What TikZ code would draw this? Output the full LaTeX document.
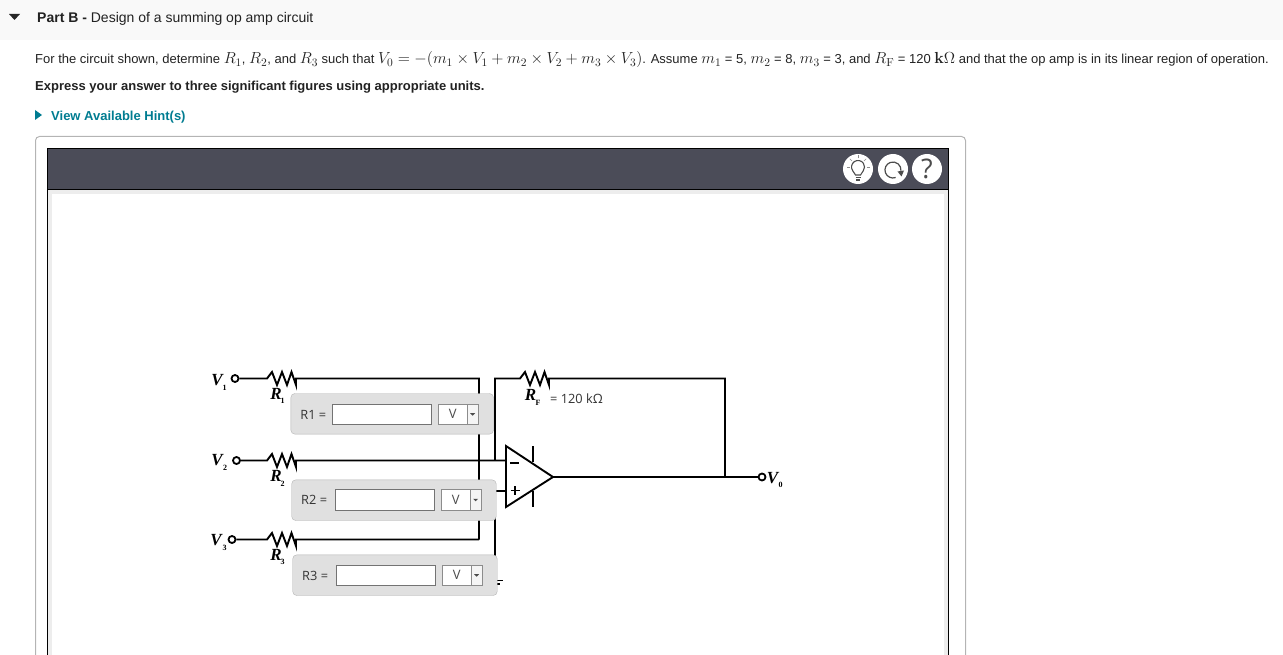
\RequirePackage{fix-cm}
\documentclass[tikz,border=0pt]{standalone}
\usepackage[no-math]{fontspec}
\usepackage{amsmath}
\setmainfont{Liberation Sans}
\newfontfamily\formfont{Open Sans}
\newfontfamily\labelfont{Liberation Serif}
\usetikzlibrary{positioning,calc}
\DeclareMathSizes{16}{16}{11.5}{8.5}
\definecolor{bandgray}{HTML}{F9F9F9}
\definecolor{panelgray}{HTML}{4B4C58}
\definecolor{hintteal}{HTML}{007C91}
\definecolor{textgray}{HTML}{222222}
\definecolor{boxgray}{HTML}{E0E0E0}
\definecolor{edgegray}{HTML}{B4B4B4}
\tikzset{
  wire/.style={line width=1.9pt, line join=miter},
  terminal/.style={circle, draw, line width=1.8pt, fill=white, inner sep=0pt, minimum size=7pt},
  para/.style={anchor=base west, inner sep=0pt, text=textgray, font=\fontsize{13}{16}\selectfont},
  symb/.style={inner sep=0pt, font=\fontsize{17}{18}\selectfont\labelfont\bfseries\itshape},
  subsymb/.style={inner sep=0pt, font=\fontsize{8}{8}\selectfont\labelfont\bfseries},
  anskbox/.style={draw=edgegray, fill=boxgray, rounded corners=4pt, anchor=north west, inner sep=0pt, minimum height=40.6pt},
  anslabel/.style={anchor=west, inner sep=0pt, text=black!80, font=\fontsize{12.8}{14}\selectfont\formfont},
  field/.style={draw=black!55, fill=white, anchor=north west, inner sep=0pt, minimum width=99pt, minimum height=20.6pt},
  unitbox/.style={draw=black!45, fill=white, anchor=north west, inner sep=0pt, minimum width=28.4pt, minimum height=20.6pt, text=black!70, font=\fontsize{13}{14}\selectfont\formfont},
  caretbox/.style={draw=black!45, fill=black!4, inner sep=0pt, minimum width=10.6pt, minimum height=20.6pt},
  iconbg/.style={circle, fill=white, inner sep=0pt, minimum size=30pt}
}
\newcommand{\zig}{-- ++(5,-6.5) -- ++(5,13) -- ++(5,-13) -- ++(5,13) -- ++(4.5,-13) -- ++(4.5,13) -- ++(0,-6.5)}
\newcommand{\mth}[1]{{\fontsize{16}{16}\selectfont$#1$}}
\begin{document}
\begin{tikzpicture}[x=1pt,y=-1pt]
  \useasboundingbox (0,0) rectangle (1283,655);
  % header
  \fill[bandgray] (0,0) rectangle (1283,40);
  \coordinate (Ta) at (9,14);
  \fill[black!85] (Ta) -- ++(11,0) -- ++(-5.5,6) -- cycle;
  \node[para, font=\fontsize{14}{16}\selectfont] (title) at (37,23) {\textbf{Part B -} Design of a summing op amp circuit};
  \node[para] (question) at (35,64) {For the circuit shown, determine \mth{R_1}, \mth{R_2}, and \mth{R_3} such that \mth{V_0 = -(m_1 \times V_1 + m_2 \times V_2 + m_3 \times V_3)}. Assume \mth{m_1} = 5, \mth{m_2} = 8, \mth{m_3} = 3, and \mth{R_{\mathrm F}} = 120 \mth{\mathbf{k}\Omega} and that the op amp is in its linear region of operation.};
  \node[para] (express) at (35,91) {\textbf{Express your answer to three significant figures using appropriate units.}};
  \coordinate (Tb) at (35,110);
  \fill[hintteal] (Tb) -- ++(7,5) -- ++(-7,5) -- cycle;
  \node[para, text=hintteal] (hint) at (51,121) {\textbf{View Available Hint(s)}};
  % panels
  \draw[edgegray, line width=1pt, rounded corners=4pt] (35.5,655) -- (35.5,136.5) -- (965.5,136.5) -- (965.5,655);
  \fill[black!7] (48,189) rectangle (948,655);
  \fill[white] (52,194) rectangle (944,655);
  \draw[black, fill=panelgray] (47.5,148.5) rectangle (948.5,189);
  \draw[black] (47.5,189) -- (47.5,655);
  \draw[black] (948.5,189) -- (948.5,655);
  % icons
  \node[iconbg] (bulb) at (858,169) {};
  \node[iconbg] (redo) at (893,169) {};
  \node[iconbg] (help) at (927,169) {};
  \draw[black!70, line width=1.1pt] (852.7,170.7) arc[start angle=145, end angle=395, radius=6.5] -- (860.5,175) -- (855.5,175) -- cycle;
  \draw[black!70, line width=1.2pt] (855.5,177.5) -- (860.5,177.5);
  \draw[black!70, line width=1.2pt] (856,180) -- (860,180);
  \foreach \a in {180,225,270,315,0}
    \draw[black!45] ($(858,167)+(\a:8.5)$) -- ($(858,167)+(\a:11.5)$);
  \draw[black!70, line width=1.2pt] (895.7,177.5) arc[start angle=70, end angle=365, radius=8];
  \fill[black!70] (897.5,171.5) -- (904,170.5) -- (901.5,176.5) -- cycle;
  \node[inner sep=0pt, text=black!70, font=\fontsize{27}{27}\selectfont\formfont] at (help) {?};
  % circuit
  \node[terminal] (T1) at (235,378.5) {};
  \node[terminal] (T2) at (236.5,460.5) {};
  \node[terminal] (T3) at (232,539.5) {};
  \node[terminal] (T0) at (762,477) {};
  \coordinate (A1) at (267,378.5);
  \coordinate (A2) at (267,460.5);
  \coordinate (A3) at (267,539.5);
  \coordinate (AF) at (520,378.5);
  \coordinate (Jt) at (479,378.5);
  \coordinate (Jb) at (479,539.5);
  \coordinate (Fb) at (495,460.5);
  \coordinate (Ft) at (495,378.5);
  \coordinate (Er) at (725,378.5);
  \coordinate (Eb) at (725,477);
  \coordinate (Ia) at (506,460.5);
  \coordinate (Ib) at (506,491);
  \coordinate (Ig) at (495,491);
  \coordinate (Gd) at (495,581);
  \coordinate (Oo) at (553,477);
  \draw[wire] (T1) -- (A1) \zig -- (Jt) -- (Jb);
  \draw[wire] (T2) -- (A2) \zig -- (Ia);
  \draw[wire] (T3) -- (A3) \zig -- (Jb);
  \draw[wire] (Fb) -- (Ft) -- (AF) \zig -- (Er) -- (Eb);
  \draw[wire] (Ib) -- (Ig) -- (Gd);
  \draw[line width=1.4pt] (491,580.5) -- (503,580.5);
  \draw[line width=1.4pt] (493,584) -- (500,584);
  \draw[wire, fill=white] (506,446) -- (Oo) -- (506,507) -- cycle;
  \draw[wire] (Oo) -- (T0);
  \draw[wire] (533,446) -- (533,462);
  \draw[wire] (533,491) -- (533,507);
  \draw[wire] (510,463) -- (519,463);
  \draw[wire] (510.5,490.5) -- (519.5,490.5);
  \draw[wire] (515,486) -- (515,495);
  % symbols
  \foreach \nm/\ltr/\idx/\xa/\ya/\xb/\yb in {
    V1/V/1/217/380/224.5/387.5,
    V2/V/2/217/460/225/467.5,
    V3/V/3/216/540/224.5/547.5,
    V0/V/0/772.5/478/780.5/485,
    R1/R/1/276/393.5/282.5/401,
    R2/R/2/276/475.5/282.5/484,
    R3/R/3/276/554.5/282.5/562,
    RF/R/F/530.5/395/538/402.5}{
    \node[symb] (sym\nm) at (\xa,\ya) {\ltr};
    \node[subsymb] (sub\nm) at (\xb,\yb) {\idx};
  }
  \node[anslabel] (rfval) at (550,398.5) {= 120 kΩ};
  % answer boxes
  \foreach \n/\xa/\ya/\wa/\xl/\xf/\yf/\xu in {
    1/290.7/393.3/202.6/300.2/332.3/403.7/438.3,
    2/291.5/479.7/204.5/301/335.3/489.3/441.3,
    3/292.5/554.7/204.5/302/336.3/564.7/442.3}{
    \node[anskbox, minimum width=\wa pt] (box\n) at (\xa,\ya) {};
    \node[anslabel] (lbl\n) at (\xl,\yf+10.8) {R\n\ =};
    \node[field] (field\n) at (\xf,\yf) {};
    \node[unitbox] (unit\n) at (\xu,\yf) {V};
    \node[caretbox, right=0pt of unit\n] (caret\n) {};
    \fill[black!70] ($(caret\n)+(-2.5,-1)$) -- ++(5,0) -- ++(-2.5,2.5) -- cycle;
  }
\end{tikzpicture}
\end{document}
